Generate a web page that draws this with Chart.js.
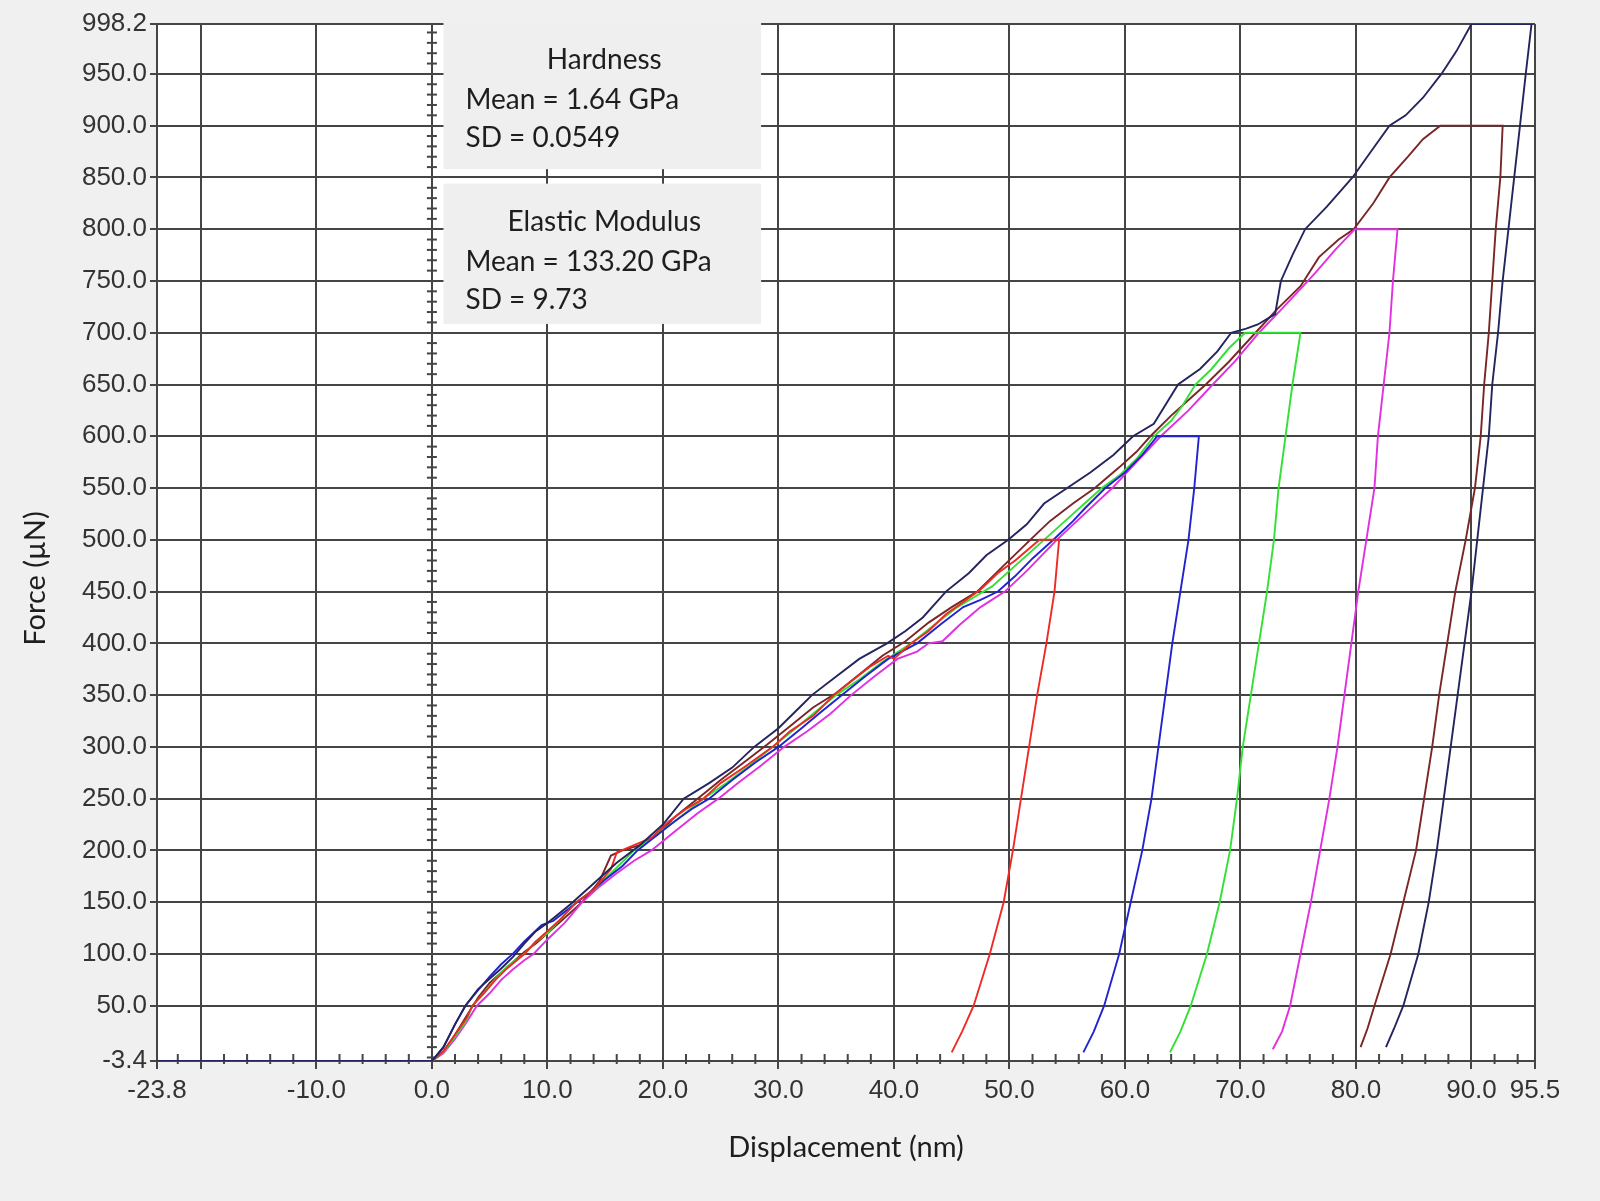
<!DOCTYPE html>
<html>
<head>
<meta charset="utf-8">
<script src="https://cdn.jsdelivr.net/npm/chart.js@4.4.1/dist/chart.umd.min.js"></script>
<style>
  html, body { margin: 0; padding: 0; background: #f0f0f0; }
  #wrap { width: 1600px; height: 1201px; }
</style>
</head>
<body>
<div id="wrap"><canvas id="chartLoad" width="1600" height="1201"></canvas></div>
<script>
// displacement (nm), force (uN) pairs
const curve500 = [[-23.8,-3.4],[0,-3.4],[1,6],[2,22],[3,38],[3.5,50],[4.5,62],[5.5,75],[6.5,86],[8,100],[9,112],[10,122],[11,132],[12.5,150],[14,162],[15.5,182],[16,198],[17.5,205],[19,212],[20.5,228],[22,240],[23.5,250],[25,265],[27,280],[29.5,300],[31,315],[33,330],[34.8,350],[36.5,365],[38,378],[39.5,388],[40,385],[41.5,400],[43,412],[44.5,428],[46,440],[47.5,452],[49,468],[50.5,480],[52.6,500],[54.3,500],[54.1,475],[53.9,450],[53.2,400],[52.4,350],[51.7,300],[51.0,250],[50.3,200],[49.5,150],[48.3,100],[46.9,50],[45.9,25],[45.0,5]];
const curve600 = [[-23.8,-3.4],[0,-3.4],[1,10],[2,32],[2.9,50],[4,65],[5,78],[6,90],[7,100],[8,112],[9.5,128],[10.5,132],[12,145],[13.5,158],[15,172],[16.5,185],[17.8,200],[19.5,215],[21,228],[22.5,240],[24,250],[26,268],[28,285],[30,300],[32,318],[33.5,332],[35.5,350],[37.5,368],[39.5,385],[42,400],[44,418],[46,435],[47.5,442],[49,450],[50.5,465],[52,482],[53.8,500],[55.5,518],[56.5,530],[58.3,550],[60,565],[61.5,582],[62.8,600],[66.4,600],[66.0,550],[65.5,500],[64.8,450],[64.1,400],[63.5,350],[62.9,300],[62.3,250],[61.5,200],[60.5,150],[59.5,100],[58.2,50],[57.3,25],[56.4,5]];
const curve700 = [[-23.8,-3.4],[0,-3.4],[1,5],[2,20],[3,36],[3.5,50],[4.5,62],[5.5,76],[6.5,88],[8,100],[9,112],[10,120],[11,132],[12.5,150],[14,162],[15.5,178],[17.5,200],[19,212],[21,228],[23.5,250],[25.5,265],[27.5,282],[29.5,300],[31.5,318],[33,332],[35,350],[37,365],[39,382],[41.5,400],[43.5,418],[45.5,435],[47,445],[48.5,455],[50,470],[51.5,485],[53.5,505],[55,520],[56.5,535],[58,550],[59.5,562],[61,578],[62.5,600],[64,615],[65,630],[66.1,650],[67.5,665],[69,685],[70.4,700],[75.2,700],[74.5,650],[73.9,600],[73.3,550],[72.9,500],[72.3,450],[71.6,400],[70.9,350],[70.2,300],[69.7,250],[69.1,200],[68.2,150],[67.1,100],[65.7,50],[64.8,25],[63.9,5]];
const curve800 = [[-23.8,-3.4],[0,-3.4],[1,4],[2,18],[3,34],[3.9,50],[5,62],[6,75],[7,85],[8,94],[8.8,100],[10,114],[11.5,130],[13,150],[14.5,165],[16,178],[17.5,190],[19,200],[21,218],[23,236],[24.8,250],[26.5,265],[28.5,282],[30.5,300],[32.5,315],[34.5,332],[36.3,350],[38.3,368],[40.3,385],[42,392],[43,400],[44.2,402],[45.7,418],[47.5,435],[49.6,450],[51.5,470],[54.1,500],[56.5,525],[58.9,550],[61,575],[63.1,600],[65.5,625],[67.6,650],[69.5,672],[71.6,700],[73.5,722],[75,740],[76.5,758],[78.2,780],[79.9,800],[83.6,800],[83.2,750],[82.9,700],[82.4,650],[81.9,600],[81.6,550],[80.9,500],[80.2,450],[79.6,400],[79.0,350],[78.4,300],[77.7,250],[76.9,200],[76.1,150],[75.2,100],[74.3,50],[73.6,25],[72.8,8]];
const curve900 = [[-23.8,-3.4],[0,-3.4],[1,6],[2,22],[3,40],[4,58],[5,72],[6,82],[7,92],[8,102],[9,110],[10,120],[11.5,135],[13,150],[14.5,170],[15.5,195],[16.5,200],[18,205],[19.5,215],[21,232],[23,250],[25,268],[27,285],[29,302],[31,320],[33,338],[35,352],[37,370],[39,388],[41,402],[43,420],[45,435],[47.2,450],[49.5,475],[51.8,500],[53.5,518],[55.5,535],[57.4,550],[59.5,570],[61,585],[62.2,600],[64,620],[65.5,635],[67,650],[69,672],[71.3,700],[73.2,723],[75.2,745],[76.8,773],[78.5,790],[79.8,800],[81.5,825],[82.9,850],[84.5,870],[85.8,887],[87.3,900],[92.7,900],[92.5,850],[92.1,800],[91.8,750],[91.5,700],[91.1,650],[90.8,600],[90.3,550],[89.5,500],[88.6,450],[87.9,400],[87.2,350],[86.6,300],[85.9,250],[85.2,200],[84.1,150],[83.0,100],[81.6,50],[81.0,28],[80.4,10]];
const curve1000 = [[-23.8,-3.4],[0,-3.4],[1,10],[2,32],[2.9,50],[4,66],[5,76],[6,86],[7,97],[8,110],[9,122],[10,130],[12,148],[14,168],[16,188],[18,205],[20,225],[21.8,250],[24,265],[26,280],[27.9,300],[30,318],[32,340],[32.9,350],[35,368],[37,385],[39.4,400],[41,412],[42.5,425],[44.5,450],[46.5,468],[48,485],[49.9,500],[51.5,515],[53,535],[55,550],[57,565],[59,582],[60.7,600],[62.5,612],[64.6,650],[66.5,665],[68,682],[69.2,700],[70.5,704],[71.5,708],[73,718],[73.5,750],[74.5,775],[75.6,800],[77.5,822],[79.7,850],[81.3,875],[82.9,900],[84.3,910],[85.8,927],[87.4,950],[88.7,972],[90.0,998.2],[95.2,998.2],[94.7,950],[94.2,900],[93.7,850],[93.2,800],[92.7,750],[92.3,700],[91.8,650],[91.5,600],[91.0,550],[90.5,500],[90.0,450],[89.4,400],[88.8,350],[88.2,300],[87.6,250],[87.0,200],[86.3,150],[85.4,100],[84.1,50],[83.3,28],[82.6,10]];

const xTicks = [-23.8, -20, -10, 0, 10, 20, 30, 40, 50, 60, 70, 80, 90, 95.5];
const yTicks = [-3.4, 50, 100, 150, 200, 250, 300, 350, 400, 450, 500, 550, 600, 650, 700, 750, 800, 850, 900, 950, 998.2];

const hardnessText = ['Hardness', 'Mean = 1.64 GPa', 'SD = 0.0549'];
const modulusText = ['Elastic Modulus', 'Mean = 133.20 GPa', 'SD = 9.73'];
const yTitle = 'Force (µN)';

const gridColor = '#454545';
const tickFont = { family: "'Liberation Sans', Arial, sans-serif", size: 26 };
const textFont = "Lato, 'Open Sans', sans-serif";

function series(pts, color) {
  return {
    data: pts.map(p => ({ x: p[0], y: p[1] })),
    borderColor: color, borderWidth: 1.9,
    pointRadius: 0, showLine: true, tension: 0, fill: false
  };
}

const panelPlugin = {
  id: 'panel',
  beforeDraw(chart) {
    const c = chart.ctx, a = chart.chartArea;
    c.save();
    c.fillStyle = '#f0f0f0';
    c.fillRect(0, 0, chart.width, chart.height);
    c.fillStyle = '#ffffff';
    c.fillRect(a.left, a.top, a.right - a.left, a.bottom - a.top);
    c.restore();
  },
  beforeDatasetsDraw(chart) {
    const c = chart.ctx, a = chart.chartArea;
    const xs = chart.scales.x, ys = chart.scales.y;
    c.save();
    // minor ticks on the zero line and along the bottom axis
    c.strokeStyle = gridColor;
    c.lineWidth = 2;
    const x0 = xs.getPixelForValue(0);
    for (let f = 0; f < 998; f += 10) {
      if (f % 50 === 0 && f > 0) continue;
      const py = ys.getPixelForValue(f);
      c.beginPath(); c.moveTo(x0 - 5, py); c.lineTo(x0 + 5, py); c.stroke();
    }
    for (let d = -22; d < 95; d += 2) {
      if (d % 10 === 0) continue;
      const px = xs.getPixelForValue(d);
      c.beginPath(); c.moveTo(px, a.bottom - 7); c.lineTo(px, a.bottom + 3); c.stroke();
    }
    // statistic boxes
    const bx1 = xs.getPixelForValue(1.0), bx2 = xs.getPixelForValue(28.5);
    const boxes = [
      { top: a.top - 2, bottom: ys.getPixelForValue(858), lines: hardnessText },
      { top: ys.getPixelForValue(844), bottom: ys.getPixelForValue(708.5), lines: modulusText }
    ];
    boxes.forEach(b => {
      c.fillStyle = '#efefef';
      c.fillRect(bx1, b.top, bx2 - bx1, b.bottom - b.top);
      c.fillStyle = '#1e1e1e';
      c.font = '28px ' + textFont;
      c.textBaseline = 'middle';
      c.textAlign = 'center';
      c.fillText(b.lines[0], (bx1 + bx2) / 2 + 2, b.top + 38);
      c.textAlign = 'left';
      c.fillText(b.lines[1], bx1 + 22, b.top + 78);
      c.fillText(b.lines[2], bx1 + 22, b.top + 116);
    });
    c.restore();
  },
  afterDraw(chart) {
    const c = chart.ctx, a = chart.chartArea;
    c.save();
    c.fillStyle = '#1e1e1e';
    c.font = '29px ' + textFont;
    c.textAlign = 'center';
    c.textBaseline = 'middle';
    c.translate(36, (a.top + a.bottom) / 2 + 36);
    c.rotate(-Math.PI / 2);
    c.fillText(yTitle, 0, 0);
    c.restore();
  }
};

new Chart(document.getElementById('chartLoad'), {
  type: 'scatter',
  data: {
    datasets: [
      series(curve1000, '#24245e'),
      series(curve500, '#ee2a24'),
      series(curve600, '#2222d0'),
      series(curve700, '#33e033'),
      series(curve800, '#e030e0'),
      series(curve900, '#7a2626')
    ]
  },
  options: {
    responsive: false,
    devicePixelRatio: 1,
    animation: false,
    layout: { padding: { top: 24, right: 65, left: 0, bottom: 0 } },
    plugins: { legend: { display: false }, tooltip: { enabled: false } },
    scales: {
      x: {
        type: 'linear', min: -23.8, max: 95.5,
        afterBuildTicks: s => { s.ticks = xTicks.map(v => ({ value: v })); },
        afterFit: s => { s.height = 140; },
        ticks: {
          autoSkip: false, maxRotation: 0, padding: 6, color: '#333333', font: tickFont,
          callback: v => (v === -20 ? '' : v.toFixed(1))
        },
        grid: { color: gridColor, lineWidth: 2, tickLength: 8 },
        border: { color: gridColor, width: 2 },
        title: {
          display: true, text: 'Displacement (nm)', color: '#1e1e1e',
          font: { family: textFont, size: 29 }, padding: { top: 0, bottom: 36 }
        }
      },
      y: {
        type: 'linear', min: -3.4, max: 998.2,
        afterBuildTicks: s => { s.ticks = yTicks.map(v => ({ value: v })); },
        afterFit: s => { s.width = 157; },
        ticks: {
          autoSkip: false, padding: 3, color: '#333333', font: tickFont,
          callback: v => v.toFixed(1)
        },
        grid: { color: gridColor, lineWidth: 2, tickLength: 7 },
        border: { color: gridColor, width: 2 }
      }
    }
  },
  plugins: [panelPlugin]
});
</script>
</body>
</html>
